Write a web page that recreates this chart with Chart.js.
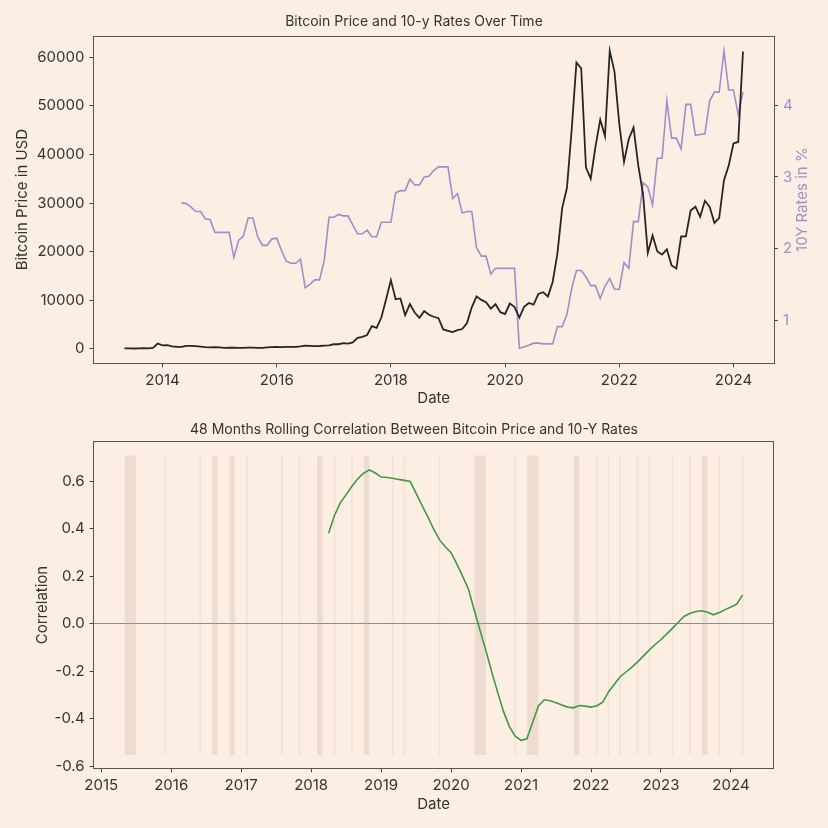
<!DOCTYPE html>
<html>
<head>
<meta charset="utf-8">
<title>Bitcoin vs 10Y rates</title>
<script src="https://cdn.jsdelivr.net/npm/chart.js@4.4.1/dist/chart.umd.min.js"></script>
<style>
  html, body { margin: 0; padding: 0; background: #fdeee3; }
  #wrap { position: relative; width: 828px; height: 828px; }
  .box { position: absolute; left: 0; width: 828px; height: 414px; }
</style>
</head>
<body>
<div id="wrap">
  <div class="box" style="top:0"><canvas id="priceChart"></canvas></div>
  <div class="box" style="top:414px"><canvas id="corrChart"></canvas></div>
</div>
<script>
// monthly closes, one value per month-end starting at btcStart
const btcStart = "2013-04";
const btcClose = [
  139, 129, 97, 106, 141, 133, 204, 1129, 732,
  800, 550, 457, 448, 628, 640, 586, 481, 387, 338, 378, 320,
  217, 254, 244, 236, 230, 263, 284, 230, 236, 314, 377, 430,
  369, 437, 416, 448, 531, 673, 624, 575, 609, 701, 742, 964,
  970, 1190, 1080, 1348, 2300, 2480, 2875, 4703, 4338, 6468, 10233, 14156,
  10221, 10397, 6973, 9240, 7494, 6404, 7780, 7037, 6625, 6317, 4017, 3743,
  3457, 3854, 4105, 5350, 8574, 10817, 10085, 9630, 8293, 9199, 7569, 7193,
  9350, 8599, 6438, 8658, 9461, 9137, 11323, 11680, 10784, 13781, 19626, 28990,
  33114, 45137, 58918, 57750, 37332, 35041, 41626, 47166, 43790, 61318, 57005, 46306,
  38483, 43193, 45538, 37714, 31792, 19785, 23336, 20050, 19431, 20495, 17168, 16547,
  23139, 23147, 28478, 29268, 27219, 30477, 29230, 25931, 26968, 34667, 37713, 42265,
  42580, 61198
];

// 10-year rates, month-ends from ratesStart
const ratesStart = "2014-04";
const rates10y = [
  2.64, 2.63, 2.58, 2.52, 2.52, 2.42, 2.41, 2.23, 2.23,
  2.23, 2.23, 1.88, 2.12, 2.18, 2.43, 2.43, 2.17, 2.05, 2.05, 2.14, 2.15,
  1.98, 1.83, 1.80, 1.80, 1.86, 1.46, 1.51, 1.57, 1.57, 1.84, 2.44, 2.44,
  2.48, 2.46, 2.46, 2.33, 2.21, 2.21, 2.26, 2.17, 2.17, 2.37, 2.37, 2.37,
  2.78, 2.81, 2.81, 2.97, 2.89, 2.89, 3.00, 3.01, 3.09, 3.14, 3.14, 3.14,
  2.70, 2.77, 2.50, 2.52, 2.52, 2.02, 1.90, 1.90, 1.65, 1.73, 1.73, 1.73,
  1.73, 1.73, 0.62, 0.64, 0.66, 0.69, 0.69, 0.68, 0.68, 0.68, 0.92, 0.92,
  1.09, 1.45, 1.70, 1.70, 1.61, 1.49, 1.49, 1.31, 1.48, 1.59, 1.44, 1.44,
  1.81, 1.73, 2.38, 2.38, 2.92, 2.86, 2.61, 3.26, 3.26, 4.06, 3.54, 3.54,
  3.39, 4.01, 4.01, 3.58, 3.59, 3.60, 4.06, 4.18, 4.18, 4.75, 4.21, 4.21,
  3.87, 4.18
];

// 48-month rolling correlation, month-ends from corrStart
const corrStart = "2018-03";
const rollingCorr = [
  0.382, 0.457, 0.510, 0.545, 0.580, 0.612, 0.635, 0.649, 0.636, 0.619,
  0.617, 0.614, 0.609, 0.605, 0.600, 0.550, 0.500, 0.452, 0.400, 0.355,
  0.325, 0.300, 0.252, 0.200, 0.145, 0.055, -0.030, -0.115, -0.205, -0.290,
  -0.370, -0.433, -0.474, -0.491, -0.485, -0.415, -0.345, -0.320, -0.324, -0.333,
  -0.342, -0.351, -0.354, -0.344, -0.347, -0.351, -0.345, -0.330, -0.287, -0.255,
  -0.223, -0.203, -0.182, -0.160, -0.135, -0.110, -0.087, -0.066, -0.042, -0.018,
  0.008, 0.032, 0.045, 0.052, 0.055, 0.049, 0.038, 0.048, 0.060, 0.071,
  0.083, 0.122
];

// shaded periods [from month-end, to month-end]; same month = thin line
const bandFrom = ["2015-04", "2015-11", "2016-05", "2016-07", "2016-10", "2017-01", "2017-07", "2017-10",
  "2018-01", "2018-04", "2018-07", "2018-09", "2019-02", "2019-04", "2019-10", "2020-04", "2020-11",
  "2021-01", "2021-09", "2022-01", "2022-03", "2022-05", "2022-08", "2022-10", "2023-02", "2023-05",
  "2023-07", "2023-10", "2024-02"];
const bandTo = ["2015-06", "2015-11", "2016-05", "2016-08", "2016-11", "2017-01", "2017-07", "2017-10",
  "2018-02", "2018-04", "2018-07", "2018-10", "2019-02", "2019-04", "2019-10", "2020-06", "2020-11",
  "2021-03", "2021-10", "2022-01", "2022-03", "2022-05", "2022-08", "2022-10", "2023-02", "2023-05",
  "2023-08", "2023-10", "2024-02"];
const bandLow = -0.553;
const bandHigh = 0.710;

const topYearTicks = [2014, 2016, 2018, 2020, 2022, 2024];
const bottomYearTicks = [2015, 2016, 2017, 2018, 2019, 2020, 2021, 2022, 2023, 2024];
const priceTicks = [0, 10000, 20000, 30000, 40000, 50000, 60000];
const rateTicks = [1, 2, 3, 4];
const corrTicks = [-0.6, -0.4, -0.2, 0, 0.2, 0.4, 0.6];

const textColor = "#333333";
const frameColor = "#555555";
const rateColor = "#9d8fca";
const fontFamily = "Inter, 'DejaVu Sans', sans-serif";

Chart.defaults.font.family = fontFamily;
Chart.defaults.font.size = 15;
Chart.defaults.color = textColor;

// "YYYY-MM" plus i months -> decimal year at the end of that month
function monthEnd(ym, i) {
  const [y, m] = ym.split("-").map(Number);
  const idx = y * 12 + (m - 1) + i;
  return Math.floor(idx / 12) + ((idx % 12) + 1) / 12;
}

function fixedTicks(list) {
  return scale => { scale.ticks = list.map(v => ({ value: v })); };
}

const tickGrid = { display: true, drawOnChartArea: false, drawTicks: true, tickLength: 4, tickColor: "#444" };
const frame = { display: true, color: frameColor, width: 1 };

// right axis title, rotated to read bottom-to-top like the left one
const rightTitle = {
  id: "rightTitle",
  afterDraw(chart) {
    const s = chart.scales.y1;
    const ctx = chart.ctx;
    ctx.save();
    ctx.translate(s.right - 26, (chart.chartArea.top + chart.chartArea.bottom) / 2);
    ctx.rotate(-Math.PI / 2);
    ctx.fillStyle = rateColor;
    ctx.font = "15px " + fontFamily;
    ctx.textAlign = "center";
    ctx.textBaseline = "middle";
    ctx.fillText("10Y Rates in %", 0, 0);
    ctx.restore();
  }
};

new Chart(document.getElementById("priceChart"), {
  type: "line",
  data: {
    datasets: [
      {
        label: "Bitcoin Price",
        data: btcClose.map((v, i) => ({ x: monthEnd(btcStart, i), y: v })),
        borderColor: "#262626",
        borderWidth: 1.8,
        pointRadius: 0,
        yAxisID: "y"
      },
      {
        label: "10Y Rates",
        data: rates10y.map((v, i) => ({ x: monthEnd(ratesStart, i), y: v })),
        borderColor: rateColor,
        borderWidth: 1.6,
        pointRadius: 0,
        yAxisID: "y1"
      }
    ]
  },
  options: {
    responsive: true,
    maintainAspectRatio: false,
    animation: false,
    layout: { padding: 0 },
    plugins: {
      legend: { display: false },
      tooltip: { enabled: false },
      title: {
        display: true,
        text: "Bitcoin Price and 10-y Rates Over Time",
        color: textColor,
        font: { size: 14, weight: "normal" },
        padding: { top: 13.6, bottom: 5.6 }
      }
    },
    scales: {
      x: {
        type: "linear",
        min: 2012.79,
        max: 2024.71,
        afterBuildTicks: fixedTicks(topYearTicks),
        afterFit: s => { s.height = 50.7; },
        ticks: { callback: v => String(v), padding: 3.7, maxRotation: 0, autoSkip: false },
        grid: tickGrid,
        border: frame,
        title: { display: true, text: "Date", padding: { top: 0, bottom: 6.7 } }
      },
      xTop: {
        type: "linear",
        position: "top",
        min: 2012.79,
        max: 2024.71,
        afterFit: s => { s.height = 0; },
        ticks: { display: false },
        grid: { display: false },
        border: frame
      },
      y: {
        position: "left",
        min: -2950,
        max: 64380,
        afterBuildTicks: fixedTicks(priceTicks),
        afterFit: s => { s.width = 93.4; },
        ticks: { callback: v => String(v), padding: 5 },
        grid: tickGrid,
        border: frame,
        title: { display: true, text: "Bitcoin Price in USD", padding: { top: 13, bottom: 0 } }
      },
      y1: {
        position: "right",
        min: 0.41,
        max: 4.96,
        afterBuildTicks: fixedTicks(rateTicks),
        afterFit: s => { s.width = 54; },
        ticks: { callback: v => String(v), color: rateColor, padding: 5 },
        grid: tickGrid,
        border: frame
      }
    }
  },
  plugins: [rightTitle]
});

const bandSets = bandFrom.map((from, i) => {
  const a = monthEnd(from, 0);
  const b = monthEnd(bandTo[i], 0);
  const thin = a === b;
  return {
    data: [{ x: a, y: bandLow }, { x: a, y: bandHigh }, { x: b, y: bandHigh }, { x: b, y: bandLow }],
    borderColor: thin ? "rgba(190,160,140,0.15)" : "rgba(0,0,0,0)",
    borderWidth: thin ? 1.8 : 0,
    backgroundColor: "rgba(190,160,140,0.22)",
    fill: { value: bandLow },
    pointRadius: 0,
    order: 2
  };
});

new Chart(document.getElementById("corrChart"), {
  type: "line",
  data: {
    datasets: [
      {
        label: "Rolling correlation",
        data: rollingCorr.map((v, i) => ({ x: monthEnd(corrStart, i), y: v })),
        borderColor: "#3e9a3e",
        borderWidth: 1.6,
        pointRadius: 0,
        order: 0
      },
      ...bandSets
    ]
  },
  options: {
    responsive: true,
    maintainAspectRatio: false,
    animation: false,
    layout: { padding: 0 },
    plugins: {
      legend: { display: false },
      tooltip: { enabled: false },
      title: {
        display: true,
        text: "48 Months Rolling Correlation Between Bitcoin Price and 10-Y Rates",
        color: textColor,
        font: { size: 14, weight: "normal" },
        padding: { top: 6.9, bottom: 4 }
      }
    },
    scales: {
      x: {
        type: "linear",
        min: 2014.891,
        max: 2024.608,
        afterBuildTicks: fixedTicks(bottomYearTicks),
        afterFit: s => { s.height = 59.7; },
        ticks: { callback: v => String(v), padding: 3.7, maxRotation: 0, autoSkip: false },
        grid: tickGrid,
        border: frame,
        title: { display: true, text: "Date", padding: { top: 0, bottom: 15 } }
      },
      xTop: {
        type: "linear",
        position: "top",
        min: 2014.891,
        max: 2024.608,
        afterFit: s => { s.height = 0; },
        ticks: { display: false },
        grid: { display: false },
        border: frame
      },
      y: {
        position: "left",
        min: -0.609,
        max: 0.768,
        afterBuildTicks: fixedTicks(corrTicks),
        afterFit: s => { s.width = 93.6; },
        ticks: { callback: v => v.toFixed(1), padding: 5 },
        grid: {
          display: true,
          drawOnChartArea: true,
          drawTicks: true,
          tickLength: 4,
          tickColor: "#444",
          color: c => (c.tick && Math.abs(c.tick.value) < 1e-9 ? "#8c8c8c" : "rgba(0,0,0,0)"),
          lineWidth: 1
        },
        border: frame,
        title: { display: true, text: "Correlation", padding: { top: 33, bottom: 0 } }
      },
      yRight: {
        position: "right",
        min: -0.609,
        max: 0.768,
        afterFit: s => { s.width = 54.5; },
        ticks: { display: false },
        grid: { display: false },
        border: frame
      }
    }
  }
});
</script>
</body>
</html>
